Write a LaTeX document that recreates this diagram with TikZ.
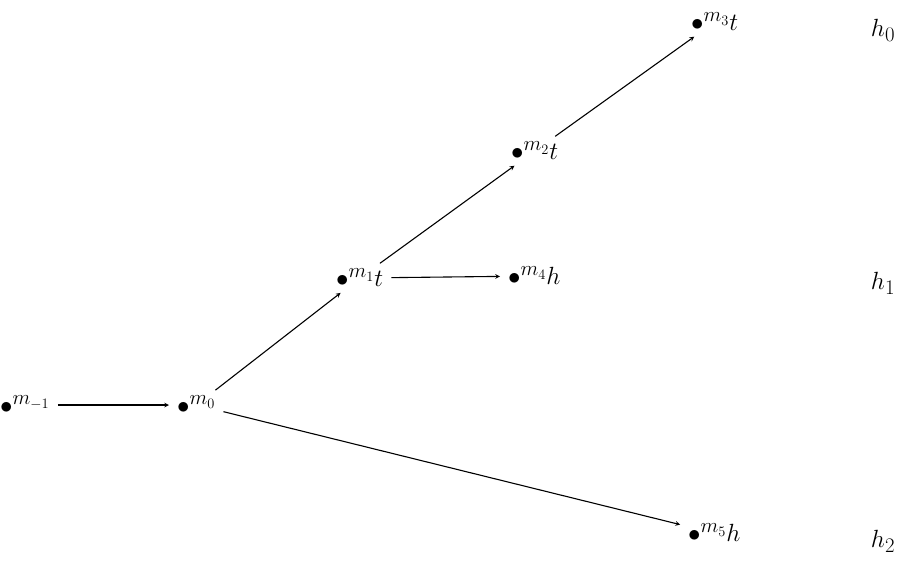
\documentclass[tikz,border=0pt]{standalone}
\begin{document}
\begin{tikzpicture}[x=1pt,y=-1pt,
  pt/.style={anchor=west,inner sep=2pt,font=\fontsize{30}{34}\selectfont},
  lab/.style={font=\fontsize{30}{34}\selectfont},
  arr/.style={->,>=stealth,line width=1.1pt,shorten >=6pt,shorten <=6pt}]
\useasboundingbox (0,0) rectangle (900,584);
\node[pt] (a) at (-2,405) {$\bullet^{m_{-1}}$};
\node[pt] (b) at (175,405) {$\bullet^{m_0}$};
\node[pt] (c) at (334,278) {$\bullet^{m_1}t$};
\node[pt] (d) at (509,151) {$\bullet^{m_2}t$};
\node[pt] (e) at (689,22) {$\bullet^{m_3}t$};
\node[pt] (f) at (506,276) {$\bullet^{m_4}h$};
\node[pt] (g) at (686,533) {$\bullet^{m_5}h$};
\node[lab] (h0) at (883,30) {$h_0$};
\node[lab] (h1) at (883,283) {$h_1$};
\node[lab] (h2) at (883,541) {$h_2$};
\draw[arr] (a) -- (b);
\draw[arr] (b) -- (c);
\draw[arr] (c) -- (d);
\draw[arr] (d) -- (e);
\draw[arr] (c) -- (f);
\draw[arr] (b) -- (g);
\end{tikzpicture}
\end{document}
